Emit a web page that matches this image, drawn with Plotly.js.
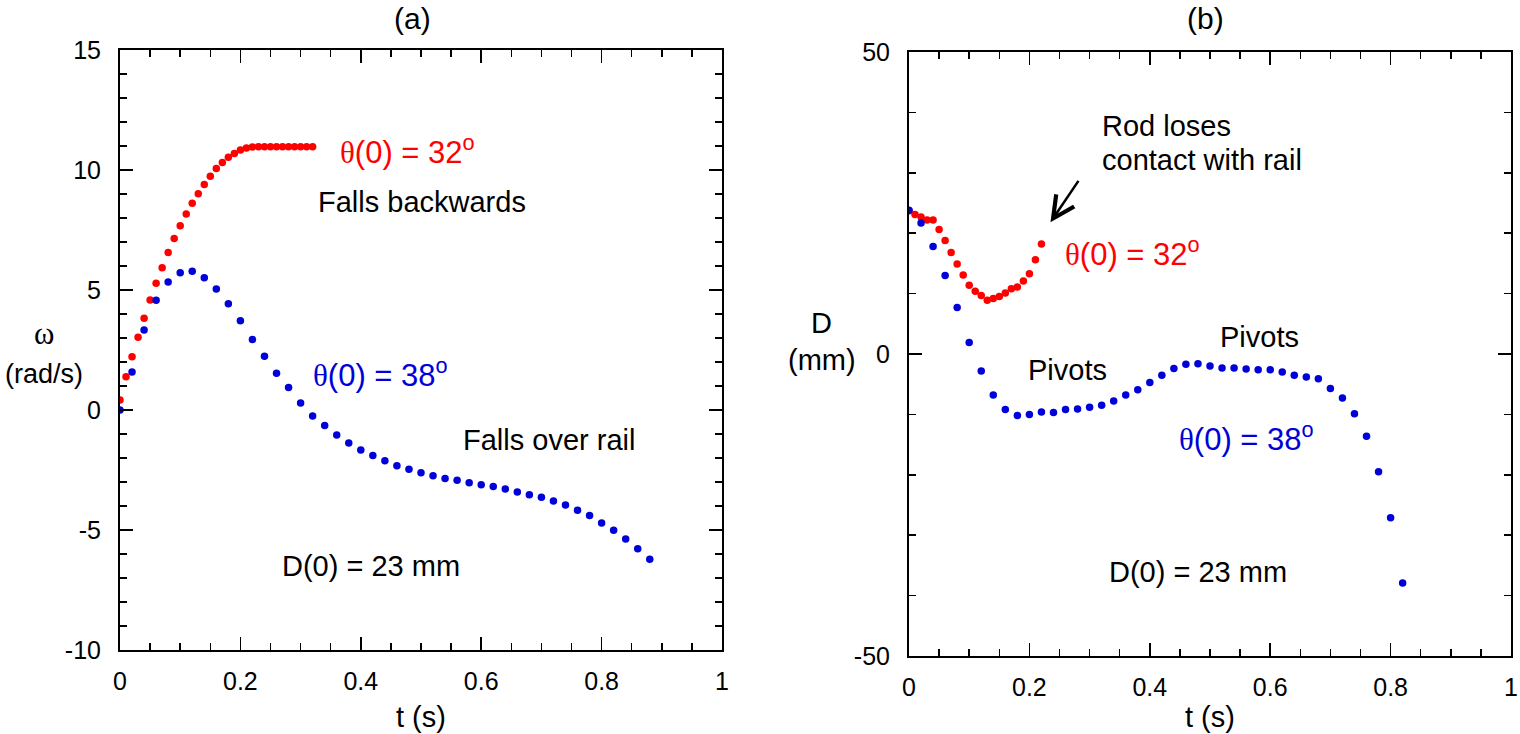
<!DOCTYPE html>
<html>
<head>
<meta charset="utf-8">
<script src="https://cdn.plot.ly/plotly-3.0.1.min.js"></script>
<style>html,body{margin:0;padding:0;background:#fff;}#chart{width:1520px;height:734px;}</style>
</head>
<body>
<div id="chart"></div>
<script>
// ---------- Data ----------
// Panel (a): angular velocity omega (rad/s) vs time t (s)
const tRedA = [0,0.01,0.02,0.03,0.04,0.05,0.06,0.07,0.08,0.09,0.10,0.11,0.12,0.13,0.14,0.15,0.16,0.17,0.18,0.19,0.20,0.21,0.22,0.23,0.24,0.25,0.26,0.27,0.28,0.29,0.30,0.31,0.32];
const omegaRed = [0.42,1.39,2.22,3.03,3.82,4.58,5.28,5.93,6.56,7.15,7.68,8.17,8.61,9.01,9.40,9.74,10.06,10.31,10.53,10.69,10.83,10.92,10.96,10.97,10.97,10.97,10.97,10.97,10.97,10.97,10.97,10.97,10.97];
const tBlueA = [0,0.02,0.04,0.06,0.08,0.10,0.12,0.14,0.16,0.18,0.20,0.22,0.24,0.26,0.28,0.30,0.32,0.34,0.36,0.38,0.40,0.42,0.44,0.46,0.48,0.50,0.52,0.54,0.56,0.58,0.60,0.62,0.64,0.66,0.68,0.70,0.72,0.74,0.76,0.78,0.80,0.82,0.84,0.86,0.88];
const omegaBlue = [0,1.58,3.33,4.57,5.33,5.72,5.78,5.51,5.04,4.43,3.72,2.94,2.24,1.53,0.94,0.29,-0.25,-0.65,-1.04,-1.38,-1.67,-1.90,-2.11,-2.32,-2.47,-2.61,-2.74,-2.85,-2.93,-3.03,-3.11,-3.19,-3.29,-3.42,-3.53,-3.64,-3.79,-3.96,-4.18,-4.40,-4.71,-5.01,-5.38,-5.78,-6.22];

// Panel (b): D (mm) vs time t (s)
const tRedB = [0,0.01,0.02,0.03,0.04,0.05,0.06,0.07,0.08,0.09,0.10,0.11,0.12,0.13,0.14,0.15,0.16,0.17,0.18,0.19,0.20,0.21,0.22];
const dRed = [23.7,23.1,22.7,22.2,22.2,20.6,18.8,16.8,14.9,13.1,11.4,10.4,9.7,8.9,9.2,9.5,10.1,10.8,11.1,12.1,13.3,15.6,18.2];
const tBlueB = [0,0.02,0.04,0.06,0.08,0.10,0.12,0.14,0.16,0.18,0.20,0.22,0.24,0.26,0.28,0.30,0.32,0.34,0.36,0.38,0.40,0.42,0.44,0.46,0.48,0.50,0.52,0.54,0.56,0.58,0.60,0.62,0.64,0.66,0.68,0.70,0.72,0.74,0.76,0.78,0.80,0.82];
const dBlue = [23.8,21.7,17.8,13.0,7.7,1.9,-2.8,-6.8,-9.2,-10.2,-10.0,-9.6,-9.7,-9.2,-9.1,-8.8,-8.5,-7.8,-6.8,-5.9,-4.7,-3.5,-2.4,-1.7,-1.6,-2.0,-2.3,-2.3,-2.5,-2.6,-2.6,-3.0,-3.5,-3.8,-4.1,-5.7,-7.3,-9.9,-13.6,-19.5,-27.1,-37.9];

// Tick labels
const xTickVals = [0,0.2,0.4,0.6,0.8,1];
const xTickText = ['0','0.2','0.4','0.6','0.8','1'];
const yaTickVals = [-10,-5,0,5,10,15];
const yaTickText = ['-10','-5','0','5','10','15'];
const ybTickVals = [-50,0,50];
const ybTickText = ['-50','0','50'];

// ---------- Styling ----------
const RED = '#ff0000';
const BLUE = '#0000d8';
const W = 1520, H = 734;
const FONT = 'Liberation Sans, Arial, sans-serif';
const SERIF = 'Liberation Serif, Times New Roman, serif';
const px = v => v / W;
const py = v => 1 - v / H;

const mk = (color) => ({color: color, size: 7.5, line: {width: 0}});

const traces = [
  {x: tRedA, y: omegaRed, xaxis: 'x', yaxis: 'y', mode: 'markers', marker: mk(RED), hoverinfo: 'skip'},
  {x: tBlueA, y: omegaBlue, xaxis: 'x', yaxis: 'y', mode: 'markers', marker: mk(BLUE), hoverinfo: 'skip'},
  {x: tRedB, y: dRed, xaxis: 'x2', yaxis: 'y2', mode: 'markers', marker: mk(RED), hoverinfo: 'skip'},
  {x: tBlueB, y: dBlue, xaxis: 'x2', yaxis: 'y2', mode: 'markers', marker: mk(BLUE), hoverinfo: 'skip'}
];

function xAx(domain, anchor) {
  return {
    domain: domain, anchor: anchor, range: [0, 1],
    tickmode: 'array', tickvals: xTickVals, ticktext: xTickText,
    ticks: 'inside', ticklen: 13, tickwidth: 1.5, tickcolor: '#000',
    minor: {tickmode: 'linear', tick0: 0, dtick: 0.05, ticks: 'inside', ticklen: 7, tickwidth: 1.5, tickcolor: '#000', showgrid: false},
    showline: true, linecolor: '#000', linewidth: 2, mirror: 'ticks',
    showgrid: false, zeroline: false,
    tickfont: {family: FONT, size: 25, color: '#000'},
    ticklabelstandoff: 8, ticklabeloverflow: 'allow'
  };
}
function yAx(domain, anchor, range, vals, text, minorDtick) {
  return {
    domain: domain, anchor: anchor, range: range,
    tickmode: 'array', tickvals: vals, ticktext: text,
    ticks: 'inside', ticklen: 13, tickwidth: 1.5, tickcolor: '#000',
    minor: {tickmode: 'linear', tick0: 0, dtick: minorDtick, ticks: 'inside', ticklen: 7, tickwidth: 1.5, tickcolor: '#000', showgrid: false},
    showline: true, linecolor: '#000', linewidth: 2, mirror: 'ticks',
    showgrid: false, zeroline: false,
    tickfont: {family: FONT, size: 25, color: '#000'},
    ticklabelstandoff: 12, ticklabeloverflow: 'allow'
  };
}

const th = '<span style="font-family:Liberation Serif">θ</span>';
function ann(text, x, y, opts) {
  return Object.assign({
    text: text, x: x, y: y, xref: 'paper', yref: 'paper',
    xanchor: 'left', yanchor: 'middle', showarrow: false,
    font: {family: FONT, size: 29, color: '#000'}
  }, opts || {});
}

const annotations = [
  // titles
  ann('(a)', px(412), py(18), {xanchor: 'center', font: {family: FONT, size: 30, color: '#000'}}),
  ann('(b)', px(1205), py(18), {xanchor: 'center', font: {family: FONT, size: 30, color: '#000'}}),
  // x axis titles
  ann('t (s)', px(421), py(717), {xanchor: 'center'}),
  ann('t (s)', px(1210), py(717), {xanchor: 'center'}),
  // y axis titles
  ann('<span style="font-family:Liberation Serif">ω</span>', px(44), py(334), {xanchor: 'center', font: {family: SERIF, size: 31, color: '#000'}}),
  ann('(rad/s)', px(44), py(374), {xanchor: 'center', font: {family: FONT, size: 27, color: '#000'}}),
  ann('D', px(822), py(323), {xanchor: 'center'}),
  ann('(mm)', px(822), py(360), {xanchor: 'center'}),
  // panel (a)
  ann(th + '(0) = 32<sup>o</sup>', px(338), py(150), {font: {family: FONT, size: 31, color: RED}}),
  ann('Falls backwards', px(316), py(202)),
  ann(th + '(0) = 38<sup>o</sup>', px(311), py(373), {font: {family: FONT, size: 31, color: BLUE}}),
  ann('Falls over rail', px(461), py(440)),
  ann('D(0) = 23 mm', px(280), py(566)),
  // panel (b)
  ann('Rod loses', px(1100), py(126)),
  ann('contact with rail', px(1100), py(160)),
  ann(th + '(0) = 32<sup>o</sup>', px(1063), py(252), {font: {family: FONT, size: 31, color: RED}}),
  ann('Pivots', px(1067), py(370), {xanchor: 'center'}),
  ann('Pivots', px(1259), py(337), {xanchor: 'center'}),
  ann(th + '(0) = 38<sup>o</sup>', px(1177), py(437), {font: {family: FONT, size: 31, color: BLUE}}),
  ann('D(0) = 23 mm', px(1107), py(572)),
  // arrow
  {text: '', x: 0.235, y: 21.8, xref: 'x2', yref: 'y2', showarrow: true,
   ax: 29, ay: -43, arrowhead: 5, arrowsize: 1.7, arrowwidth: 2.5, arrowcolor: '#000', standoff: 0}
];

const layout = {
  width: W, height: H,
  margin: {l: 0, r: 0, t: 0, b: 0, pad: 0},
  paper_bgcolor: '#fff', plot_bgcolor: '#fff',
  showlegend: false,
  font: {family: FONT, color: '#000'},
  xaxis: xAx([px(120), px(722)], 'y'),
  yaxis: yAx([1 - 650 / H, 1 - 50 / H], 'x', [-10, 15], yaTickVals, yaTickText, 1),
  xaxis2: xAx([px(909), px(1511)], 'y2'),
  yaxis2: yAx([1 - 656 / H, 1 - 52 / H], 'x2', [-50, 50], ybTickVals, ybTickText, 10),
  annotations: annotations
};

Plotly.newPlot('chart', traces, layout, {displayModeBar: false, staticPlot: true});
</script>
</body>
</html>
